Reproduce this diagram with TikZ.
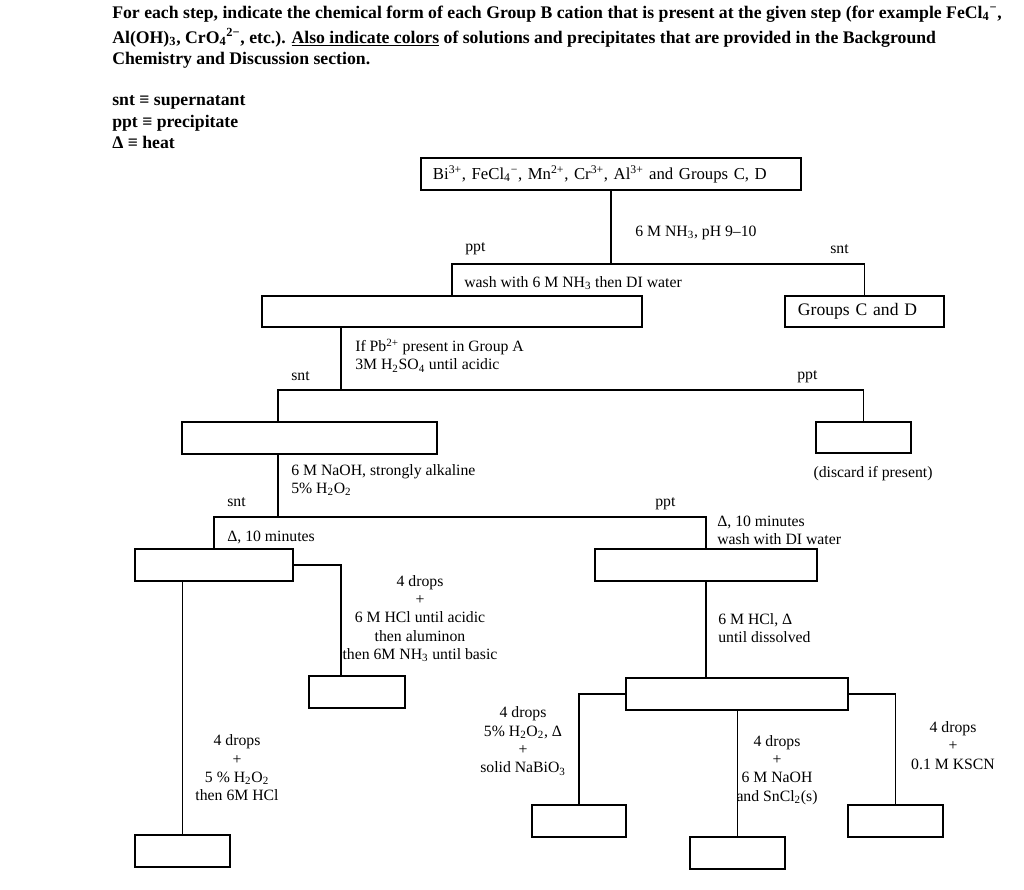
\documentclass[tikz,border=0pt]{standalone}
\usepackage{fontspec}
\setmainfont{Liberation Serif}
\newcommand{\sbs}[1]{\textsubscript{#1}}
\newcommand{\sps}[1]{\textsuperscript{#1}}
\newcommand{\boxfont}{\fontsize{12.5}{15}\selectfont}
\newcommand{\lblfont}{\fontsize{11.2}{13}\selectfont}
\newcommand{\hdrfont}{\fontsize{12.6}{15}\selectfont\bfseries}
\tikzset{box/.style 2 args={draw, line width=0.8pt, inner sep=0pt, minimum width=#1*0.025cm, minimum height=#2*0.025cm}}
\tikzset{lbl/.style={font=\lblfont, inner sep=0pt, align=center}}
\tikzset{note/.style={font=\lblfont, inner sep=0pt, align=left, anchor=west}}
\tikzset{hdr/.style={font=\hdrfont, inner sep=0pt, anchor=base west}}
\tikzset{wire/.style={line width=0.8pt}}

\begin{document}
\begin{tikzpicture}[x=0.025cm, y=-0.025cm]
    \useasboundingbox (0,0) rectangle (1024,889);
    \node[hdr] (hdr1) at (112,18) {For each step, indicate the chemical form of each Group B cation that is present at the given step (for example FeCl\sbs{4}\sps{−},};
    \node[hdr] (hdr2) at (112,43) {Al(OH)\sbs{3}, CrO\sbs{4}\sps{2−}, etc.). \underline{Also indicate colors} of solutions and precipitates that are provided in the Background};
    \node[hdr] (hdr3) at (112,64) {Chemistry and Discussion section.};
    \node[hdr] (leg1) at (112,105) {snt ≡ supernatant};
    \node[hdr] (leg2) at (112,127) {ppt ≡ precipitate};
    \node[hdr] (leg3) at (112,148) {Δ ≡ heat};

    \node[box={380}{32}, inner xsep=0.3cm, text width=8.9cm, align=left, font=\fontsize{11.9}{14}\selectfont] (top) at (611,174)
        {Bi\sps{3+}, FeCl\sbs{4}\sps{−}, Mn\sps{2+}, Cr\sps{3+}, Al\sps{3+} and Groups C, D};
    \node[box={380}{31}] (hydrox) at (452,311.5) {};
    \node[box={159}{31}, inner xsep=0.325cm, text width=3.325cm, align=left, font=\boxfont] (grpCD) at (864.5,311.5) {Groups C and D};
    \node[box={255}{32}] (pbsnt) at (309.5,438) {};
    \node[box={95}{31}] (pbppt) at (863.5,437.5) {};
    \node[box={158}{32}] (alcr) at (214,565) {};
    \node[box={222}{32}] (bimnfe) at (706,565) {};
    \node[box={96}{32}] (altest) at (357,692) {};
    \node[box={95}{32}] (crtest) at (182.5,851) {};
    \node[box={222}{32}] (acidsol) at (737,694) {};
    \node[box={94}{32}] (mntest) at (579,821) {};
    \node[box={95}{32}] (bitest) at (737.5,853) {};
    \node[box={95}{32}] (fetest) at (895.5,821) {};

    \coordinate (j1) at (611,264);
    \coordinate (j2) at (341,390);
    \coordinate (j2l) at (278,390);
    \coordinate (j3) at (278,517);
    \coordinate (c4) at (341,565);
    \draw[wire] (top.south) -- (j1);
    \draw[wire] (hydrox.north) |- (j1) -| (grpCD.north);
    \draw[wire] (j2 |- hydrox.south) -- (j2);
    \draw[wire] (j2l |- pbsnt.north) -- (j2l) -| (pbppt.north);
    \draw[wire] (j3 |- pbsnt.south) -- (j3);
    \draw[wire] (alcr.north) |- (j3) -| (bimnfe.north);
    \draw[wire] (alcr.east) -- (c4) -- (c4 |- altest.north);
    \draw[wire] (crtest.north |- alcr.south) -- (crtest.north);
    \draw[wire] (bimnfe.south) -- (bimnfe.south |- acidsol.north);
    \draw[wire] (acidsol.west) -| (mntest.north);
    \draw[wire] (bitest.north |- acidsol.south) -- (bitest.north);
    \draw[wire] (acidsol.east) -| (fetest.north);

    \node[note] (nh3) at (635,233) {6 M NH\sbs{3}, pH 9–10};
    \node[note] (pptA) at (465,249) {ppt};
    \node[note] (sntA) at (830,249) {snt};
    \node[note] (washA) at (464,283) {wash with 6 M NH\sbs{3} then DI water};
    \node[note] (sulf) at (355,355.5) {If Pb\sps{2+} present in Group A\\3M H\sbs{2}SO\sbs{4} until acidic};
    \node[note] (sntB) at (291,376) {snt};
    \node[note] (pptB) at (797,377) {ppt};
    \node[lbl] (disc) at (873,474) {(discard if present)};
    \node[note] (naoh) at (291,480) {6 M NaOH, strongly alkaline\\5\% H\sbs{2}O\sbs{2}};
    \node[note] (sntC) at (227,502) {snt};
    \node[note] (pptC) at (655,504) {ppt};
    \node[note] (heatC) at (227,537) {Δ, 10 minutes};
    \node[note] (heatD) at (717,530.5) {Δ, 10 minutes\\wash with DI water};
    \node[lbl] (alum) at (420,618.5) {4 drops\\+\\6 M HCl until acidic\\then aluminon\\then 6M NH\sbs{3} until basic};
    \node[note] (hcl) at (718,628) {6 M HCl, Δ\\until dissolved};
    \node[lbl] (bismuth) at (523,741) {4 drops\\5\% H\sbs{2}O\sbs{2}, Δ\\+\\solid NaBiO\sbs{3}};
    \node[lbl] (perox) at (237,768) {4 drops\\+\\5 \% H\sbs{2}O\sbs{2}\\then 6M HCl};
    \node[lbl] (stann) at (777,770) {4 drops\\+\\6 M NaOH\\and SnCl\sbs{2}(s)};
    \node[lbl] (kscn) at (953,745.5) {4 drops\\+\\0.1 M KSCN};
\end{tikzpicture}
\end{document}
